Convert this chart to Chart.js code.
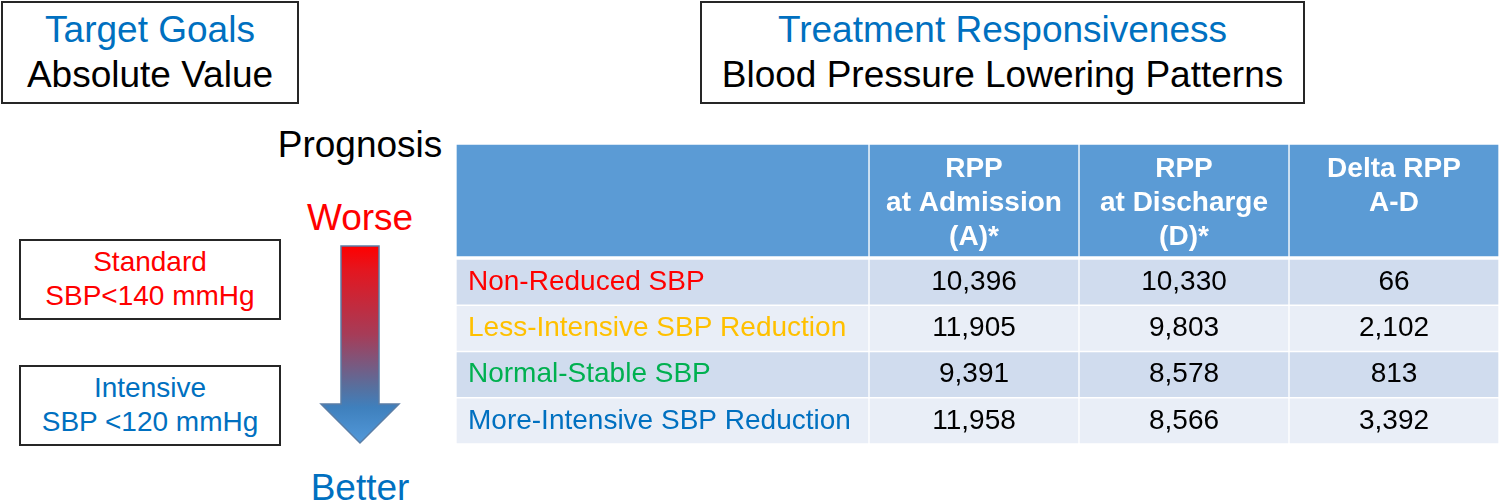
<!DOCTYPE html>
<html>
<head>
<meta charset="utf-8">
<script src="https://cdn.jsdelivr.net/npm/chart.js@4.4.1/dist/chart.umd.min.js"></script>
<style>
html, body { margin: 0; padding: 0; background: #fff; }
body { width: 1501px; height: 502px; position: relative; overflow: hidden; font-family: "Liberation Sans", Arial, sans-serif; }
.box { position: absolute; box-sizing: border-box; border: 2px solid #262626; }
.t { position: absolute; white-space: nowrap; text-align: center; }
.big { font-size: 37px; line-height: 44px; }
.small { font-size: 28px; line-height: 34px; }
.blue { color: #0070c0; }
.red { color: #ff0000; }
#head, #body { position: absolute; }
#head { left: 456px; top: 144px; }
#body { left: 456px; top: 259px; }
</style>
</head>
<body>

<div class="box" style="left:1px;top:1px;width:298px;height:103px;"></div>
<div class="t big blue" style="left:1px;width:298px;top:8px;">Target Goals</div>
<div class="t big" style="left:1px;width:298px;top:53px;">Absolute Value</div>

<div class="box" style="left:700px;top:1px;width:605px;height:103px;"></div>
<div class="t big blue" style="left:700px;width:605px;top:8px;">Treatment Responsiveness</div>
<div class="t big" style="left:700px;width:605px;top:53px;">Blood Pressure Lowering Patterns</div>

<div class="t big" style="left:260px;width:200px;top:123px;">Prognosis</div>
<div class="t big red" style="left:260px;width:200px;top:196px;">Worse</div>
<div class="t big blue" style="left:260px;width:200px;top:466px;">Better</div>

<svg style="position:absolute;left:0;top:0;" width="1501" height="502">
  <defs>
    <linearGradient id="grad" x1="0" y1="246" x2="0" y2="443" gradientUnits="userSpaceOnUse">
      <stop offset="0" stop-color="#ff0000"/>
      <stop offset="0.12" stop-color="#e4161f"/>
      <stop offset="0.45" stop-color="#a63c58"/>
      <stop offset="0.72" stop-color="#56709f"/>
      <stop offset="0.82" stop-color="#3f80bd"/>
      <stop offset="1" stop-color="#5299da"/>
    </linearGradient>
  </defs>
  <polygon points="341,246 379,246 379,404 399,404 360,443 321,404 341,404"
           fill="url(#grad)" stroke="#5b7ea6" stroke-width="1.5"/>
</svg>

<div class="box" style="left:19px;top:239px;width:262px;height:81px;"></div>
<div class="t small red" style="left:19px;width:262px;top:245px;">Standard</div>
<div class="t small red" style="left:19px;width:262px;top:279px;">SBP&lt;140 mmHg</div>

<div class="box" style="left:19px;top:365px;width:262px;height:81px;"></div>
<div class="t small blue" style="left:19px;width:262px;top:371px;">Intensive</div>
<div class="t small blue" style="left:19px;width:262px;top:405px;">SBP &lt;120 mmHg</div>

<canvas id="head" width="1043" height="113"></canvas>
<canvas id="body" width="1043" height="185"></canvas>

<script>
// table data
const rowLabels = ['Non-Reduced SBP', 'Less-Intensive SBP Reduction', 'Normal-Stable SBP', 'More-Intensive SBP Reduction'];
const rppAdmission = [10396, 11905, 9391, 11958];
const rppDischarge = [10330, 9803, 8578, 8566];
const deltaRpp = [66, 2102, 813, 3392];
const columnHeaders = [[], ['RPP', 'at Admission', '(A)*'], ['RPP', 'at Discharge', '(D)*'], ['Delta RPP', 'A-D']];

// layout / style
const colWidths = [413, 210, 210, 210];
const rowColors = ['#ff0000', '#ffc000', '#00b050', '#0070c0'];
const stripe = ['#d0dcee', '#e9eef7'];
const totalWidth = colWidths.reduce((a, b) => a + b, 0);
const fontFamily = '"Liberation Sans", Arial, sans-serif';

function cellText(c, r) {
    if (c === 0) return rowLabels[r];
    return [rppAdmission, rppDischarge, deltaRpp][c - 1][r].toLocaleString('en-US');
}

var commonOptions = {
    indexAxis: 'y',
    responsive: false,
    animation: false,
    layout: { padding: 0 },
    plugins: { legend: { display: false }, tooltip: { enabled: false } },
    scales: {
        x: { stacked: true, display: false, min: 0, max: totalWidth, grid: { display: false } },
        y: { stacked: true, display: false, grid: { display: false } }
    }
};

function cellDataset(w, count, colorFn) {
    return {
        data: new Array(count).fill(w),
        backgroundColor: colorFn,
        borderColor: '#ffffff',
        borderWidth: 1,
        borderSkipped: false,
        barPercentage: 1,
        categoryPercentage: 1
    };
}

const headerText = {
    id: 'headerText',
    afterDatasetsDraw(chart) {
        const ctx = chart.ctx;
        ctx.save();
        ctx.fillStyle = '#ffffff';
        ctx.font = 'bold 28px ' + fontFamily;
        ctx.textAlign = 'center';
        ctx.textBaseline = 'middle';
        chart.data.datasets.forEach((ds, c) => {
            const el = chart.getDatasetMeta(c).data[0];
            const p = el.getProps(['x', 'y', 'base', 'height'], true);
            const cx = (p.x + p.base) / 2;
            const top = p.y - p.height / 2;
            columnHeaders[c].forEach((line, i) => {
                ctx.fillText(line, cx, top + 25 + i * 34);
            });
        });
        ctx.restore();
    }
};

const bodyText = {
    id: 'bodyText',
    afterDatasetsDraw(chart) {
        const ctx = chart.ctx;
        ctx.save();
        ctx.font = '28px ' + fontFamily;
        ctx.textBaseline = 'middle';
        chart.data.datasets.forEach((ds, c) => {
            chart.getDatasetMeta(c).data.forEach((el, r) => {
                const p = el.getProps(['x', 'y', 'base'], true);
                if (c === 0) {
                    ctx.textAlign = 'left';
                    ctx.fillStyle = rowColors[r];
                    ctx.fillText(cellText(c, r), p.base + 12, p.y);
                } else {
                    ctx.textAlign = 'center';
                    ctx.fillStyle = '#000000';
                    ctx.fillText(cellText(c, r), (p.x + p.base) / 2, p.y);
                }
            });
        });
        ctx.restore();
    }
};

new Chart(document.getElementById('head'), {
    type: 'bar',
    data: {
        labels: ['header'],
        datasets: colWidths.map(w => cellDataset(w, 1, '#5b9bd5'))
    },
    options: commonOptions,
    plugins: [headerText]
});

new Chart(document.getElementById('body'), {
    type: 'bar',
    data: {
        labels: rowLabels,
        datasets: colWidths.map(w => cellDataset(w, rowLabels.length, ctx => stripe[ctx.dataIndex % 2]))
    },
    options: commonOptions,
    plugins: [bodyText]
});
</script>
</body>
</html>
